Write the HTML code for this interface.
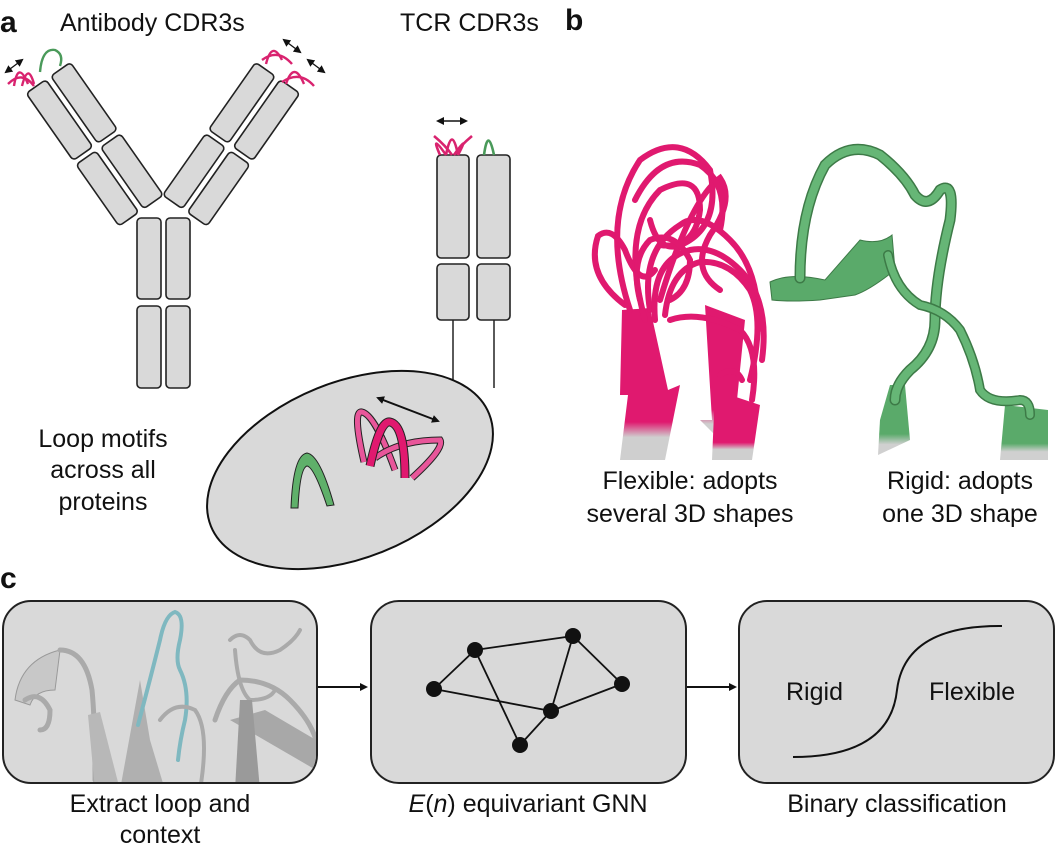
<!DOCTYPE html>
<html><head><meta charset="utf-8"><style>
html,body{margin:0;padding:0;background:#fff}
svg{display:block}
text{font-family:"Liberation Sans",sans-serif;fill:#111}
</style></head><body>
<svg width="1057" height="847" viewBox="0 0 1057 847" xmlns="http://www.w3.org/2000/svg">
<defs>
<marker id="ah" markerWidth="8" markerHeight="8" refX="6" refY="4" orient="auto" markerUnits="userSpaceOnUse"><path d="M0,0 L8,4 L0,8 Z" fill="#111"/></marker>
<marker id="as" markerWidth="8" markerHeight="8" refX="2" refY="4" orient="auto" markerUnits="userSpaceOnUse"><path d="M8,0 L0,4 L8,8 Z" fill="#111"/></marker>
<clipPath id="c1"><rect x="4" y="602" width="312" height="180" rx="27"/></clipPath>
<linearGradient id="pg" x1="0" y1="0" x2="0" y2="1"><stop offset="0.75" stop-color="#e0196f"/><stop offset="0.85" stop-color="#cfcfcf"/></linearGradient>
<linearGradient id="gg" x1="0" y1="0" x2="0" y2="1"><stop offset="0.7" stop-color="#5aaa6a"/><stop offset="0.85" stop-color="#d0d0d0"/></linearGradient>
</defs>

<text x="0" y="32" font-size="30" font-weight="bold">a</text>
<text x="565" y="30" font-size="30" font-weight="bold">b</text>
<text x="0" y="588" font-size="30" font-weight="bold">c</text>

<text x="60" y="31" font-size="25">Antibody CDR3s</text>
<text x="400" y="31" font-size="25">TCR CDR3s</text>

<g fill="#d9d9d9" stroke="#222" stroke-width="1.6">
<rect x="137" y="218" width="24" height="81" rx="4"/>
<rect x="166" y="218" width="24" height="81" rx="4"/>
<rect x="137" y="306" width="24" height="82" rx="4"/>
<rect x="166" y="306" width="24" height="82" rx="4"/>
<g transform="translate(142,210) rotate(-35)">
<rect x="-28" y="-75" width="24" height="75" rx="4"/>
<rect x="2" y="-75" width="24" height="75" rx="4"/>
<rect x="-28" y="-162" width="24" height="82" rx="4"/>
<rect x="2" y="-162" width="24" height="82" rx="4"/>
</g>
<g transform="translate(184,210) rotate(35)">
<rect x="-26" y="-75" width="24" height="75" rx="4"/>
<rect x="4" y="-75" width="24" height="75" rx="4"/>
<rect x="-26" y="-162" width="24" height="82" rx="4"/>
<rect x="4" y="-162" width="24" height="82" rx="4"/>
</g>
</g>
<g fill="none" stroke-width="2.4">
<path d="M40,72 Q42,48 55,50 Q64,54 60,66" stroke="#4a9a5a"/>
<g stroke="#d9236f"><path d="M14,86 Q18,60 28,84"/><path d="M8,84 Q22,70 34,86"/><path d="M22,86 Q28,62 34,84"/></g>
<g stroke="#d9236f"><path d="M266,64 Q272,40 282,60"/><path d="M262,60 Q278,48 292,64"/><path d="M286,84 Q294,60 304,84"/><path d="M282,82 Q300,70 314,86"/></g>
</g>
<line x1="6" y1="72" x2="22" y2="60" stroke="#111" stroke-width="1.3" marker-end="url(#ah)" marker-start="url(#as)"/>
<line x1="284" y1="40" x2="300" y2="52" stroke="#111" stroke-width="1.3" marker-end="url(#ah)" marker-start="url(#as)"/>
<line x1="308" y1="60" x2="324" y2="72" stroke="#111" stroke-width="1.3" marker-end="url(#ah)" marker-start="url(#as)"/>

<g fill="#d9d9d9" stroke="#222" stroke-width="1.6">
<rect x="437" y="155" width="32" height="103" rx="4"/>
<rect x="477" y="155" width="33" height="103" rx="4"/>
<rect x="437" y="264" width="32" height="56" rx="4"/>
<rect x="477" y="264" width="33" height="56" rx="4"/>
</g>
<line x1="453" y1="320" x2="453" y2="388" stroke="#222" stroke-width="1.5"/>
<line x1="494" y1="320" x2="494" y2="388" stroke="#222" stroke-width="1.5"/>
<g fill="none" stroke-width="2.6">
<path d="M484,155 Q488,126 494,155" stroke="#4a9a5a"/>
<g stroke="#d9236f"><path d="M440,155 Q430,132 446,155"/><path d="M446,155 Q452,124 458,155"/><path d="M458,155 Q470,132 454,155"/><path d="M434,136 Q446,146 452,155"/><path d="M472,136 Q460,146 454,155"/></g>
</g>
<line x1="438" y1="121" x2="466" y2="121" stroke="#111" stroke-width="1.5" marker-end="url(#ah)" marker-start="url(#as)"/>

<ellipse cx="350" cy="470" rx="150" ry="88" transform="rotate(-22 350 470)" fill="#d9d9d9" stroke="#111" stroke-width="2"/>
<path d="M291,508 Q293,455 307,453 Q320,455 334,505 L327,506 Q314,467 307,466 Q300,468 298,508 Z" fill="#5fb06a" stroke="#222" stroke-width="1"/>
<g fill="none" stroke-linecap="butt">
<path d="M364,462 Q352,410 362,412 Q375,415 395,470" stroke="#222" stroke-width="7"/>
<path d="M364,462 Q352,410 362,412 Q375,415 395,470" stroke="#e8569a" stroke-width="5"/>
<path d="M375,458 Q400,440 440,440 Q445,448 412,478" stroke="#222" stroke-width="7"/>
<path d="M375,458 Q400,440 440,440 Q445,448 412,478" stroke="#e8569a" stroke-width="5"/>
<path d="M370,466 Q380,420 390,422 Q405,425 405,478" stroke="#222" stroke-width="9"/>
<path d="M370,466 Q380,420 390,422 Q405,425 405,478" stroke="#e0196f" stroke-width="7"/>
</g>
<line x1="378" y1="398" x2="438" y2="421" stroke="#111" stroke-width="2" marker-end="url(#ah)" marker-start="url(#as)"/>

<text x="103" y="447" font-size="25" text-anchor="middle">Loop motifs</text>
<text x="103" y="478" font-size="25" text-anchor="middle">across all</text>
<text x="103" y="510" font-size="25" text-anchor="middle">proteins</text>

<g>
<path d="M622,310 L650,308 L668,390 L680,385 L665,460 L620,460 L628,395 L620,395 Z" fill="url(#pg)"/>
<path d="M705,305 L745,320 L735,420 L752,420 L725,445 L700,420 L712,420 Z" fill="url(#pg)"/>
<path d="M715,390 L760,405 L752,460 L712,460 Z" fill="url(#pg)"/>
<g fill="none" stroke="#e0196f" stroke-width="6" stroke-linecap="round">
<path d="M625,305 Q585,275 598,236 Q612,225 625,250 Q640,290 655,270"/>
<path d="M630,310 Q600,220 640,160 Q680,130 710,170 Q720,220 690,240 Q660,260 650,220"/>
<path d="M645,320 Q620,230 660,190 Q700,170 700,210 Q695,250 660,245"/>
<path d="M650,310 Q640,250 680,225 Q700,210 730,240 Q760,270 758,330"/>
<path d="M655,320 Q650,260 690,250 Q715,245 740,270 Q770,300 762,360"/>
<path d="M665,315 Q670,270 700,262 Q730,260 750,290 Q765,320 750,380"/>
<path d="M660,300 Q690,200 720,178 Q735,200 710,235 Q690,270 720,290"/>
<path d="M640,300 Q630,260 650,240 Q675,230 690,260 Q690,290 670,300"/>
<path d="M670,320 Q700,310 740,330 Q760,350 752,400"/>
<path d="M635,200 Q660,150 700,165 Q730,185 720,230"/>
<path d="M720,375 Q735,365 742,380"/>
</g>
<path d="M770,282 Q790,272 825,280 L860,240 Q880,245 892,235 L895,270 Q870,290 855,295 L820,300 Q790,302 772,300 Z" fill="#5aaa6a" stroke="#3d7a47" stroke-width="1"/>
<path d="M890,385 L905,385 L910,440 L878,455 L880,420 Z" fill="url(#gg)"/>
<path d="M1005,405 L1048,410 L1048,460 L1000,460 Z" fill="url(#gg)"/>
<g fill="none" stroke-linecap="round">
<path d="M800,278 Q800,210 825,165 Q850,140 880,155 Q905,175 915,195 Q928,210 940,190 Q955,180 950,220 Q935,280 935,320 Q935,350 910,370 Q895,385 895,400" stroke="#3d7a47" stroke-width="11"/>
<path d="M800,278 Q800,210 825,165 Q850,140 880,155 Q905,175 915,195 Q928,210 940,190 Q955,180 950,220 Q935,280 935,320 Q935,350 910,370 Q895,385 895,400" stroke="#66b676" stroke-width="8"/>
<path d="M888,255 Q895,290 920,305 Q945,310 960,330 Q975,360 980,390 Q990,405 1020,400 Q1030,400 1030,415" stroke="#3d7a47" stroke-width="10"/>
<path d="M888,255 Q895,290 920,305 Q945,310 960,330 Q975,360 980,390 Q990,405 1020,400 Q1030,400 1030,415" stroke="#66b676" stroke-width="7"/>
</g>
</g>
<text x="690" y="489" font-size="25" text-anchor="middle">Flexible: adopts</text>
<text x="690" y="522" font-size="25" text-anchor="middle">several 3D shapes</text>
<text x="960" y="489" font-size="25" text-anchor="middle">Rigid: adopts</text>
<text x="960" y="522" font-size="25" text-anchor="middle">one 3D shape</text>

<rect x="3" y="601" width="314" height="182" rx="28" fill="#d9d9d9" stroke="#222" stroke-width="2"/>
<g clip-path="url(#c1)" fill="none" stroke-linecap="round">
<path d="M15,700 Q20,660 60,650 L55,690 Q35,690 30,705 Z" fill="#c8c8c8" stroke="#999" stroke-width="1"/>
<path d="M60,650 Q85,650 92,690 Q95,720 95,780" stroke="#aaa" stroke-width="5"/>
<path d="M25,700 Q40,690 50,710 Q50,730 40,730" stroke="#aaa" stroke-width="5"/>
<path d="M88,715 L100,712 L120,790 L95,790 Z" fill="#b8b8b8"/>
<path d="M140,680 L150,740 L165,790 L120,790 Z" fill="#b0b0b0"/>
<path d="M138,725 Q150,680 160,640 Q165,615 175,612 Q185,615 180,640 Q175,660 180,670 Q190,690 185,720 Q180,740 178,760" stroke="#7fb8c0" stroke-width="4"/>
<path d="M160,720 Q175,700 195,710 Q210,730 200,790" stroke="#aaa" stroke-width="4"/>
<path d="M215,720 Q225,690 240,680 Q270,680 290,700 Q310,720 316,740" stroke="#aaa" stroke-width="5"/>
<path d="M230,640 Q240,630 250,640 Q260,660 280,650 Q295,640 300,630" stroke="#aaa" stroke-width="4"/>
<path d="M235,650 Q238,690 250,700 Q270,700 275,690" stroke="#aaa" stroke-width="4"/>
<path d="M230,720 L265,710 L316,740 L316,770 Z" fill="#a8a8a8"/>
<path d="M240,700 L252,700 L260,790 L235,790 Z" fill="#9a9a9a"/>
</g>
<rect x="371" y="601" width="315" height="182" rx="28" fill="#d9d9d9" stroke="#222" stroke-width="2"/>
<rect x="739" y="601" width="315" height="182" rx="28" fill="#d9d9d9" stroke="#222" stroke-width="2"/>
<line x1="318" y1="687" x2="366" y2="687" stroke="#111" stroke-width="2" marker-end="url(#ah)"/>
<line x1="687" y1="687" x2="735" y2="687" stroke="#111" stroke-width="2" marker-end="url(#ah)"/>
<g stroke="#111" stroke-width="1.8">
<line x1="475" y1="650" x2="573" y2="636"/>
<line x1="475" y1="650" x2="434" y2="689"/>
<line x1="475" y1="650" x2="520" y2="745"/>
<line x1="434" y1="689" x2="551" y2="711"/>
<line x1="573" y1="636" x2="551" y2="711"/>
<line x1="573" y1="636" x2="622" y2="684"/>
<line x1="622" y1="684" x2="551" y2="711"/>
<line x1="551" y1="711" x2="520" y2="745"/>
</g>
<g fill="#111"><circle cx="475" cy="650" r="8"/><circle cx="573" cy="636" r="8"/><circle cx="434" cy="689" r="8"/><circle cx="622" cy="684" r="8"/><circle cx="551" cy="711" r="8"/><circle cx="520" cy="745" r="8"/></g>
<path d="M793,757 Q890,757 897,690 Q905,625 1002,626" fill="none" stroke="#111" stroke-width="2"/>
<text x="786" y="700" font-size="25">Rigid</text>
<text x="929" y="700" font-size="25">Flexible</text>

<text x="160" y="812" font-size="25" text-anchor="middle">Extract loop and</text>
<text x="160" y="843" font-size="25" text-anchor="middle">context</text>
<text x="528" y="812" font-size="25" text-anchor="middle"><tspan font-style="italic">E</tspan>(<tspan font-style="italic">n</tspan>) equivariant GNN</text>
<text x="897" y="812" font-size="25" text-anchor="middle">Binary classification</text>
</svg>
</body></html>
